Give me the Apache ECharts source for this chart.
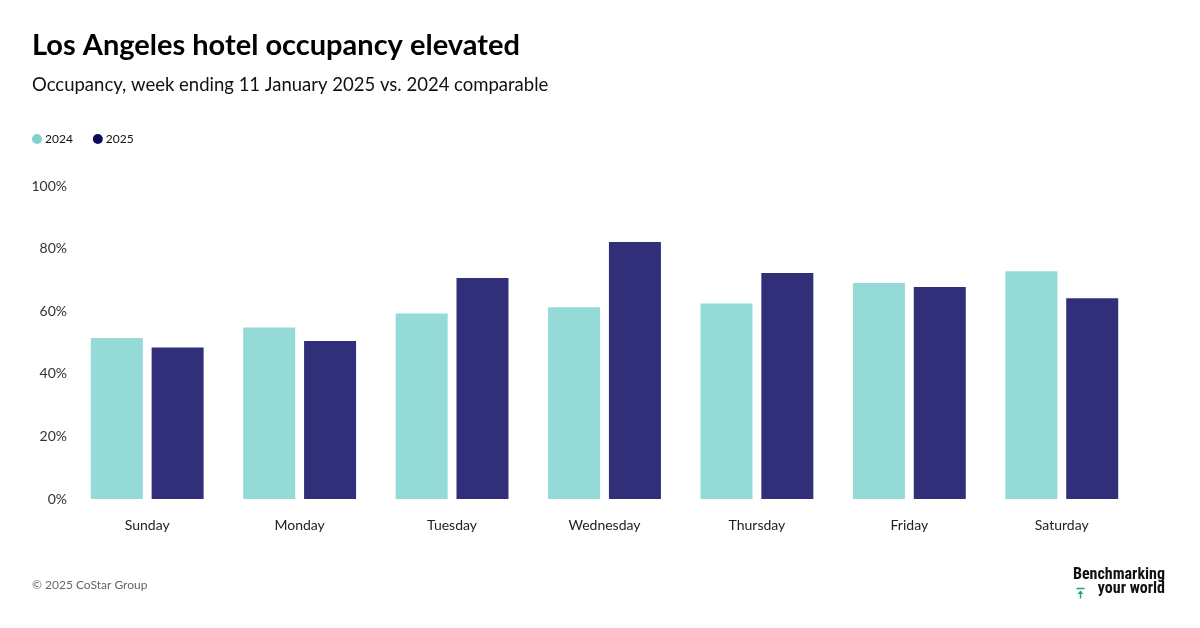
<!DOCTYPE html>
<html>
<head>
<meta charset="utf-8">
<script src="https://cdn.jsdelivr.net/npm/echarts@6/dist/echarts.min.js"></script>
<style>
  html, body { margin: 0; padding: 0; background: #fff; }
  #chart { width: 1200px; height: 628px; }
</style>
</head>
<body>
<div id="chart"></div>
<script>
const days = ['Sunday', 'Monday', 'Tuesday', 'Wednesday', 'Thursday', 'Friday', 'Saturday'];
const occ2024 = [51.4, 54.8, 59.3, 61.3, 62.5, 69.0, 72.8];
const occ2025 = [48.4, 50.5, 70.6, 82.1, 72.2, 67.7, 64.1];
const yTicks = [0, 20, 40, 60, 80, 100];

const font = 'Lato, "Noto Sans", sans-serif';
const logoFont = '"Roboto Condensed", "Liberation Sans Narrow", "DejaVu Sans Condensed", Roboto, sans-serif';
const chart = echarts.init(document.getElementById('chart'));

const option = {
  backgroundColor: '#ffffff',
  textStyle: { fontFamily: font },
  title: {
    left: 32,
    top: 31,
    padding: 0,
    text: 'Los Angeles hotel occupancy elevated',
    textStyle: { fontSize: 29, fontWeight: 'bold', color: '#000', fontFamily: font },
    subtext: 'Occupancy, week ending 11 January 2025 vs. 2024 comparable',
    subtextStyle: { fontSize: 18.5, color: '#111', fontFamily: font },
    itemGap: 16
  },
  legend: {
    left: 27,
    top: 128,
    icon: 'circle',
    itemWidth: 10,
    itemHeight: 10,
    itemGap: 20,
    textStyle: { fontSize: 12, color: '#111', padding: [0, 0, 0, -2] },
    data: [
      { name: '2024', itemStyle: { color: '#7fd1cc' } },
      { name: '2025', itemStyle: { color: '#0b0b5c' } }
    ]
  },
  grid: { left: 71, right: 62, top: 186, bottom: 129 },
  xAxis: {
    type: 'category',
    data: days,
    axisLine: { show: false },
    axisTick: { show: false },
    axisLabel: { fontSize: 14, color: '#222', margin: 19 }
  },
  yAxis: {
    type: 'value',
    min: 0,
    max: 100,
    interval: 20,
    splitLine: { show: false },
    axisLine: { show: false },
    axisTick: { show: false },
    axisLabel: {
      fontSize: 14,
      color: '#333',
      margin: 4,
      formatter: function (v) { return yTicks.includes(v) ? v + '%' : ''; }
    }
  },
  series: [
    {
      name: '2024',
      type: 'bar',
      data: occ2024,
      barWidth: 52,
      barGap: '17%',
      itemStyle: { color: '#94dbd8' }
    },
    {
      name: '2025',
      type: 'bar',
      data: occ2025,
      barWidth: 52,
      itemStyle: { color: '#312f79' }
    }
  ],
  graphic: [
    {
      type: 'text',
      left: 32,
      top: 579,
      style: { text: '© 2025 CoStar Group', fontSize: 12, fill: '#666', fontFamily: font }
    },
    {
      type: 'text',
      right: 35,
      top: 567,
      style: { text: 'Benchmarking', fontSize: 16, fontWeight: 'bold', fill: '#111', fontFamily: logoFont }
    },
    {
      type: 'text',
      right: 35,
      top: 581,
      style: { text: 'your world', fontSize: 16, fontWeight: 'bold', fill: '#111', fontFamily: logoFont }
    },
    {
      type: 'group',
      left: 1074,
      top: 586,
      children: [
        { type: 'line', shape: { x1: 0, y1: 0, x2: 8, y2: 0 }, style: { stroke: '#2a9d8f', lineWidth: 1.5 } },
        { type: 'polygon', shape: { points: [[4, 2], [1, 5.5], [7, 5.5]] }, style: { fill: '#2a9d8f' } },
        { type: 'line', shape: { x1: 4, y1: 5, x2: 4, y2: 10 }, style: { stroke: '#2a9d8f', lineWidth: 1.5 } }
      ]
    }
  ]
};

chart.setOption(option);
</script>
</body>
</html>
